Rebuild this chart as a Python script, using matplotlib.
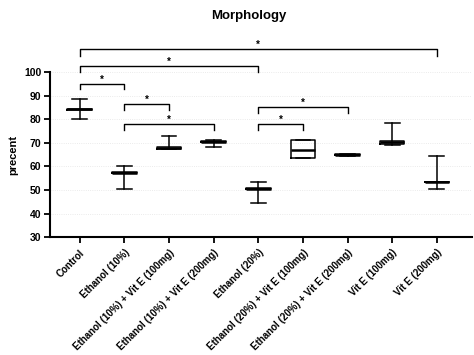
import matplotlib.pyplot as plt

plt.rcParams['font.family'] = ['Liberation Sans', 'DejaVu Sans']
plt.rcParams['font.weight'] = 'bold'

# groups and box statistics (min, q1, median, q3, max)
groups = ['Control', 'Ethanol (10%)', 'Ethanol (10%) + Vit E (100mg)',
          'Ethanol (10%) + Vit E (200mg)', 'Ethanol (20%)',
          'Ethanol (20%) + Vit E (100mg)', 'Ethanol (20%) + Vit E (200mg)',
          'Vit E (100mg)', 'Vit E (200mg)']
mins = [80, 50.4, 67.5, 68.2, 44.3, 63.4, 64.6, 69.2, 50.4]
q1s = [84, 57.2, 67.5, 70.2, 50.4, 63.4, 64.7, 69.5, 53.2]
meds = [84.2, 57.4, 68, 70.4, 50.5, 66.9, 65, 70.4, 53.3]
q3s = [84.4, 57.6, 68.2, 70.6, 50.7, 71, 65.2, 70.6, 53.5]
maxs = [88.4, 60.2, 73.1, 71.1, 53.2, 71.3, 65.1, 78.2, 64.4]

# significance brackets: (from group, to group, bar height, tick bottom)
brackets = [(0, 8, 109.6, 107.0), (0, 4, 102.4, 100.1), (0, 1, 94.9, 92.7),
            (1, 2, 86.3, 83.9), (1, 3, 77.9, 75.4), (4, 6, 85.3, 82.7),
            (4, 5, 77.8, 75.4)]

fig = plt.figure(figsize=(4.74, 3.55), dpi=100)
ax = fig.add_axes([0.105, 0.332, 0.89, 0.465])

stats = []
for i in range(len(groups)):
    stats.append({'whislo': mins[i], 'q1': q1s[i], 'med': meds[i],
                  'q3': q3s[i], 'whishi': maxs[i]})
pos = list(range(len(groups)))
ax.bxp(stats, positions=pos, widths=0.55, showfliers=False,
       boxprops=dict(color='black', linewidth=1.1),
       whiskerprops=dict(color='black', linewidth=1.1),
       capprops=dict(color='black', linewidth=1.1),
       medianprops=dict(color='black', linewidth=1.8),
       capwidths=0.33)

for a, b, h, lo in brackets:
    ax.plot([pos[a], pos[a], pos[b], pos[b]], [lo, h, h, lo],
            color='black', linewidth=1.0, clip_on=False)
    ax.text((pos[a] + pos[b]) / 2, h + 1.8, '*', ha='center', va='center',
            fontsize=7, fontweight='bold')

ax.set_xlim(-0.67, 8.78)
ax.set_ylim(30, 100)
ax.set_yticks(range(30, 101, 10))
ax.yaxis.grid(True, color='#e4e4e4', linewidth=0.6, linestyle=':')
ax.set_axisbelow(True)
ax.set_xticks(pos)
ax.set_xticklabels(groups, rotation=45, ha='right', rotation_mode='anchor',
                   fontsize=7.0, fontweight='bold')
ax.tick_params(axis='y', labelsize=7.5, width=1.3, length=4, pad=2)
ax.tick_params(axis='x', width=1.3, length=4)
for lab in ax.get_yticklabels():
    lab.set_fontweight('bold')
ax.spines['top'].set_visible(False)
ax.spines['right'].set_visible(False)
ax.spines['left'].set_linewidth(1.5)
ax.spines['bottom'].set_linewidth(1.5)

ax.set_ylabel('precent', fontsize=8, fontweight='bold', labelpad=4)
fig.text(0.525, 0.955, 'Morphology', ha='center', va='center',
         fontsize=9.5, fontweight='bold')

fig.savefig('out.png', dpi=100)
